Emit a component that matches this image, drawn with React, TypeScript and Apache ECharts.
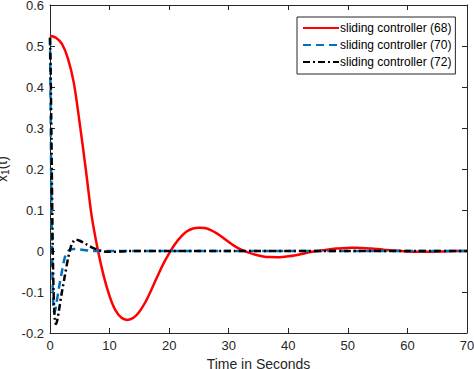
import React, { useEffect, useRef } from "react";
import * as echarts from "echarts";

const xTicks = [0, 10, 20, 30, 40, 50, 60, 70];
const yTicks = [-0.2, -0.1, 0, 0.1, 0.2, 0.3, 0.4, 0.5, 0.6];

const seriesNames = ["sliding controller (68)", "sliding controller (70)", "sliding controller (72)"];

const redT = [0, 1, 2, 3, 4, 5, 6, 7, 8, 9, 10, 11, 12, 13, 14, 15, 16, 17, 18, 19, 20, 21, 22, 23, 24, 25, 26, 27, 28, 29, 30, 31, 32, 33, 34, 35, 36, 37, 38, 39, 40, 41, 42, 43, 44, 45, 46, 47, 48, 49, 50, 51, 52, 53, 54, 55, 56, 57, 58, 59, 60, 62, 64, 66, 68, 70];
const redV = [0.525, 0.52, 0.505, 0.47, 0.41, 0.31, 0.2, 0.085, 0.005, -0.06, -0.11, -0.145, -0.163, -0.168, -0.163, -0.148, -0.125, -0.095, -0.063, -0.032, -0.006, 0.017, 0.035, 0.048, 0.055, 0.057, 0.056, 0.051, 0.043, 0.033, 0.022, 0.012, 0.004, -0.002, -0.007, -0.011, -0.014, -0.0148, -0.015, -0.0145, -0.013, -0.011, -0.008, -0.005, -0.002, 0.0, 0.002, 0.004, 0.006, 0.007, 0.0075, 0.008, 0.0075, 0.007, 0.006, 0.005, 0.003, 0.002, 0.001, 0.0, -0.001, -0.002, -0.002, -0.001, 0.0, 0.0];

const blueT = [0, 0.1, 0.2, 0.3, 0.4, 0.5, 0.6, 0.7, 0.8, 1.0, 1.5, 2.0, 2.5, 3.0, 3.5, 4.0, 5.0, 6.0, 7.0, 10, 20, 30, 40, 50, 60, 70];
const blueV = [0.52, 0.35, 0.18, 0.05, -0.05, -0.11, -0.14, -0.15, -0.148, -0.135, -0.09, -0.05, -0.015, 0.0, 0.004, 0.005, 0.004, 0.002, 0.0, 0.0, 0.0, 0.0, 0.0, 0.0, 0.0, 0.0];

const blackT = [0, 0.1, 0.2, 0.3, 0.4, 0.5, 0.6, 0.7, 0.8, 0.9, 1.0, 1.2, 1.5, 2.0, 2.5, 3.0, 3.5, 4.0, 4.3, 5.0, 6.0, 7.0, 8.0, 9.0, 10, 12, 14, 20, 30, 40, 50, 60, 70];
const blackV = [0.52, 0.45, 0.33, 0.2, 0.07, -0.03, -0.1, -0.14, -0.165, -0.175, -0.178, -0.17, -0.145, -0.1, -0.06, -0.02, 0.01, 0.025, 0.028, 0.025, 0.017, 0.009, 0.003, -0.001, -0.002, -0.001, 0.0, 0.0, 0.0, 0.0, 0.0, 0.0, 0.0];

const FONT = "'Liberation Sans', Arial, Helvetica, sans-serif";
const AX = "#262626";

function pairs(t: number[], v: number[]) {
  return t.map((x, i) => [x, v[i]]);
}

export default function App() {
  const ref = useRef<HTMLDivElement>(null);
  useEffect(() => {
    if (!ref.current) return;
    const chart = echarts.init(ref.current, null, { renderer: "svg" });
    const fmt = (v: number) => String(Math.round(v * 10) / 10);
    const axisCommon = {
      axisLine: { show: true, onZero: false, lineStyle: { color: AX, width: 1 } },
      axisTick: { show: true, inside: true, length: 5, lineStyle: { color: AX } },
      splitLine: { show: false },
    };
    chart.setOption({
      animation: false,
      textStyle: { fontFamily: FONT },
      grid: { left: 50, right: 7, top: 5, bottom: 36, containLabel: false, outerBoundsMode: "none" },
      legend: {
        left: 297,
        top: 17,
        width: 157,
        orient: "vertical",
        data: seriesNames,
        itemWidth: 36,
        itemHeight: 10,
        itemGap: 5,
        padding: [5, 4, 6, 5],
        borderColor: AX,
        borderWidth: 1,
        backgroundColor: "#fff",
        itemStyle: { opacity: 0 },
        textStyle: { fontFamily: FONT, fontSize: 12, color: "#000", padding: [0, 0, 0, -4] },
      },
      xAxis: [
        {
          type: "value",
          min: 0,
          max: 70,
          interval: 10,
          position: "bottom",
          ...axisCommon,
          axisLabel: { color: AX, fontSize: 13, fontFamily: FONT, margin: 6 },
          name: "Time in Seconds",
          nameLocation: "middle",
          nameGap: 14,
          nameTextStyle: { color: AX, fontSize: 14, fontFamily: FONT, lineHeight: 14 },
        },
        {
          type: "value",
          min: 0,
          max: 70,
          interval: 10,
          position: "top",
          ...axisCommon,
          axisLabel: { show: false },
        },
      ],
      yAxis: [
        {
          type: "value",
          min: -0.2,
          max: 0.6,
          interval: 0.1,
          position: "left",
          ...axisCommon,
          axisLabel: { color: AX, fontSize: 13, fontFamily: FONT, margin: 6, formatter: fmt },
          name: "x{sub|1}(t)",
          nameLocation: "middle",
          nameGap: 24,
          nameRotate: 90,
          nameTextStyle: {
            color: AX,
            fontSize: 14,
            fontFamily: FONT,
            rich: {
              sub: { fontSize: 10, color: AX, fontFamily: FONT, padding: [7, 0, 0, 0] },
            },
          },
        },
        {
          type: "value",
          min: -0.2,
          max: 0.6,
          interval: 0.1,
          position: "right",
          ...axisCommon,
          axisLabel: { show: false },
        },
      ],
      series: [
        {
          name: seriesNames[0],
          type: "line",
          data: pairs(redT, redV),
          symbol: "none",
          smooth: 0.3,
          lineStyle: { color: "#ff0000", width: 2.5 },
          itemStyle: { color: "#ff0000" },
          z: 3,
        },
        {
          name: seriesNames[1],
          type: "line",
          data: pairs(blueT, blueV),
          symbol: "none",
          smooth: 0.3,
          lineStyle: { color: "#0072BD", width: 2.5, type: [8, 5] },
          itemStyle: { color: "#0072BD" },
          z: 4,
        },
        {
          name: seriesNames[2],
          type: "line",
          data: pairs(blackT, blackV),
          symbol: "none",
          smooth: 0.3,
          lineStyle: { color: "#000", width: 2.5, type: [7, 3, 2, 3] },
          itemStyle: { color: "#000" },
          z: 5,
        },
      ],
    });
    return () => chart.dispose();
  }, []);
  return (
    <div
      ref={ref}
      style={{ position: "absolute", left: 0, top: 0, width: 474, height: 369, background: "#fff" }}
    />
  );
}
